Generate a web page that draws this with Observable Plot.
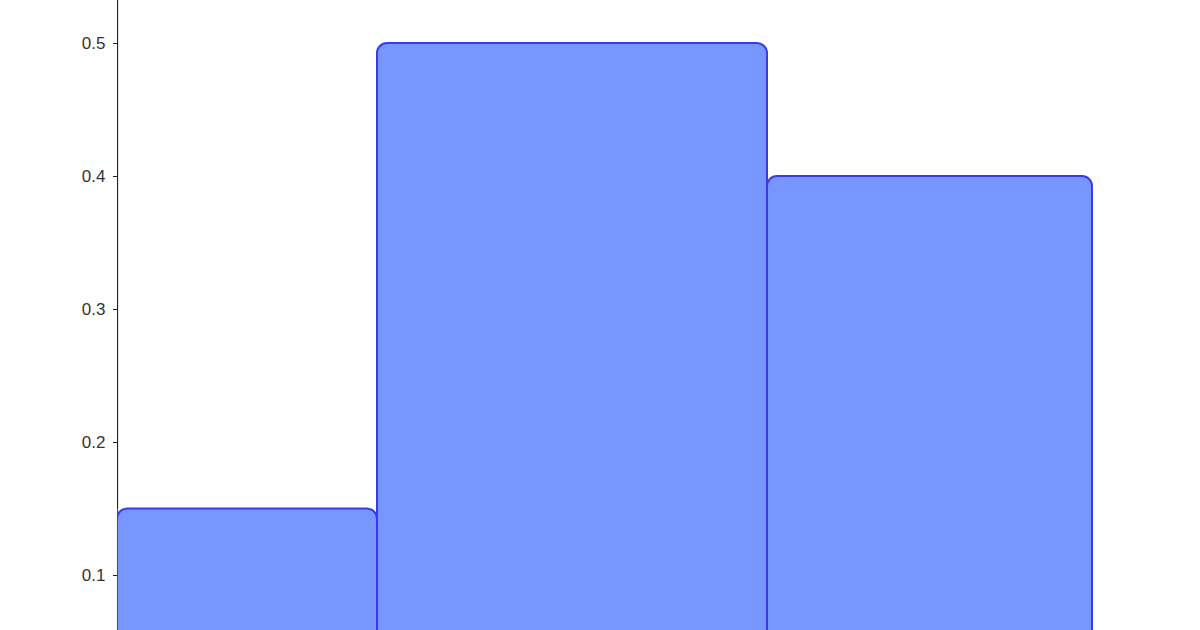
<!DOCTYPE html>
<html>
<head>
<meta charset="utf-8">
<script src="https://cdn.jsdelivr.net/npm/d3@7"></script>
<script src="https://cdn.jsdelivr.net/npm/@observablehq/plot@0.6"></script>
<style>
  html, body { margin: 0; padding: 0; background: #fff; overflow: hidden; }
  #chart svg { overflow: hidden; display: block; }
</style>
</head>
<body>
<div id="chart"></div>
<script>
const binStart = [0, 2, 5];
const binEnd = [2, 5, 7.5];
const density = [0.15, 0.5, 0.4];
const yTicks = [0.1, 0.2, 0.3, 0.4, 0.5];

const bins = binStart.map((s, i) => ({x1: s, x2: binEnd[i], y: density[i]}));

const chart = Plot.plot({
  width: 1200,
  height: 630,
  marginLeft: 117,
  marginRight: 0,
  marginTop: 0,
  marginBottom: 0,
  style: {fontFamily: "'Liberation Sans', Arial, sans-serif", fontSize: "17px", background: "#fff"},
  x: {type: "linear", domain: [0, 1083 / 130], axis: null},
  y: {type: "linear", domain: [0.5 - 587 / 1330, 0.5 + 43 / 1330]},
  marks: [
    Plot.ruleX([0], {stroke: "#222", strokeWidth: 1.2, clip: true}),
    Plot.ruleX([0], {y1: 0, y2: density[0], stroke: "#c0703a", strokeWidth: 2, dx: -1, clip: true}),
    Plot.rect(bins, {
      x1: "x1", x2: "x2", y1: 0, y2: "y",
      fill: "#7896ff", stroke: "#3a3af0", strokeWidth: 2, rx: 10, clip: true,
      insetLeft: 0, insetRight: 0
    }),
    Plot.axisY({
      ticks: yTicks, tickSize: 4, tickPadding: 8,
      tickFormat: d => d.toFixed(1),
      stroke: "#222", color: "#333", label: null
    })
  ]
});
document.getElementById("chart").appendChild(chart);
</script>
</body>
</html>
